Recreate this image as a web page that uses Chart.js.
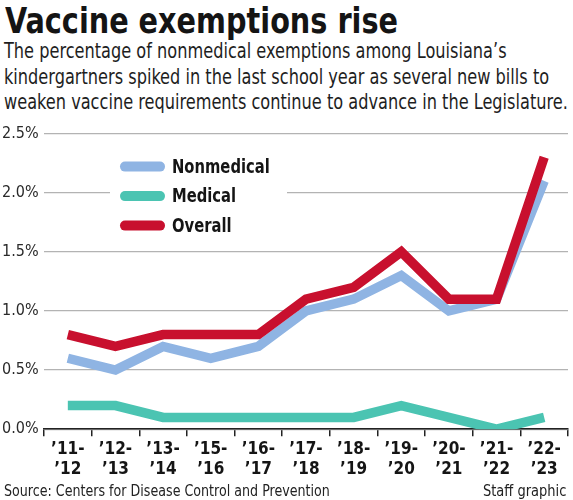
<!DOCTYPE html>
<html>
<head>
<meta charset="utf-8">
<script src="https://cdn.jsdelivr.net/npm/chart.js@4"></script>
<style>
  html, body { margin: 0; padding: 0; background: #fff; width: 573px; height: 500px; overflow: hidden; }
  body { position: relative; font-family: 'DejaVu Sans Condensed', 'DejaVu Sans', sans-serif; color: #1a1a1a; }
  .txt { position: absolute; white-space: nowrap; transform-origin: left top; }
  #title { left: 5px; top: 1px; font-size: 35px; line-height: 40px; font-weight: bold; color: #141414; }
  #sub { left: 4px; top: 39px; font-size: 21px; line-height: 25.5px; color: #1e1e1e; }
  #wrap { position: absolute; left: 0; top: 118px; width: 573px; height: 365px; }
  #source { left: 4px; top: 482px; font-size: 15px; line-height: 18px; color: #222; }
  #staff { left: 483px; top: 482px; font-size: 15px; line-height: 18px; color: #222; }
</style>
</head>
<body>
<div id="title" class="txt">Vaccine exemptions rise</div>
<div id="sub" class="txt">The percentage of nonmedical exemptions among Louisiana’s<br>kindergartners spiked in the last school year as several new bills to<br>weaken vaccine requirements continue to advance in the Legislature.</div>
<div id="wrap"><canvas id="chart"></canvas></div>
<div id="source" class="txt">Source: Centers for Disease Control and Prevention</div>
<div id="staff" class="txt">Staff graphic</div>

<script>
// school years, two-line tick labels
const schoolYears = [
  ["’11-", "’12"], ["’12-", "’13"], ["’13-", "’14"], ["’15-", "’16"],
  ["’16-", "’17"], ["’17-", "’18"], ["’18-", "’19"], ["’19-", "’20"],
  ["’20-", "’21"], ["’21-", "’22"], ["’22-", "’23"]
];

// percent of kindergartners
const nonmedical = [0.6, 0.5, 0.7, 0.6, 0.7, 1.0, 1.1, 1.3, 1.0, 1.1, 2.1];
const medical    = [0.2, 0.2, 0.1, 0.1, 0.1, 0.1, 0.1, 0.2, 0.1, 0.0, 0.1];
const overall    = [0.8, 0.7, 0.8, 0.8, 0.8, 1.1, 1.2, 1.5, 1.1, 1.1, 2.3];

const yTicks = [0, 0.5, 1.0, 1.5, 2.0, 2.5];

const FONT = "'DejaVu Sans Condensed', 'DejaVu Sans', sans-serif";

// squeeze headline texts to the narrow newspaper face widths
function fitWidth(id, w) {
  const el = document.getElementById(id);
  el.style.transform = 'scaleX(' + (w / el.scrollWidth) + ')';
}
fitWidth('title', 393);
fitWidth('sub', 564);
fitWidth('source', 326);
fitWidth('staff', 83);

// legend sits inside the plot, on a white patch over the gridline
const insideLegend = {
  id: 'insideLegend',
  afterDatasetsDraw(chart) {
    const { ctx, chartArea } = chart;
    const x0 = chartArea.left;
    const y0 = chartArea.top;
    ctx.save();
    ctx.fillStyle = '#fff';
    ctx.fillRect(x0 + 66, y0 + 12, 177, 95);
    chart.data.datasets.forEach((ds, i) => {
      const y = y0 + 33 + i * 29.5;
      ctx.strokeStyle = ds.borderColor;
      ctx.lineWidth = 10;
      ctx.lineCap = 'round';
      ctx.beginPath();
      ctx.moveTo(x0 + 81, y);
      ctx.lineTo(x0 + 116, y);
      ctx.stroke();
      ctx.fillStyle = '#151515';
      ctx.font = 'bold 20px ' + FONT;
      ctx.textBaseline = 'middle';
      ctx.save();
      ctx.translate(x0 + 128, y + 1);
      ctx.scale(0.82, 1);
      ctx.fillText(ds.label, 0, 0);
      ctx.restore();
    });
    ctx.restore();
  }
};

const mk = (label, data, color, order) => ({
  label, data, order,
  borderColor: color,
  borderWidth: 9.5,
  pointRadius: 0,
  tension: 0,
  borderJoinStyle: 'miter',
  borderCapStyle: 'butt',
  fill: false
});

new Chart(document.getElementById('chart'), {
  type: 'line',
  data: {
    labels: schoolYears,
    datasets: [
      mk('Nonmedical', nonmedical, '#8fb4e3', 1),
      mk('Medical', medical, '#4bc4b2', 2),
      mk('Overall', overall, '#c8102e', 0)
    ]
  },
  options: {
    responsive: true,
    maintainAspectRatio: false,
    animation: false,
    layout: { padding: { top: 15, right: 5, left: 2, bottom: 0 } },
    plugins: { legend: { display: false }, tooltip: { enabled: false } },
    scales: {
      x: {
        offset: true,
        grid: { offset: true, drawOnChartArea: false, drawTicks: true, tickLength: 7, color: '#222', lineWidth: 1.5 },
        border: { display: true, color: '#222', width: 1.5 },
        ticks: { color: '#151515', font: { family: FONT, size: 17, weight: 'bold' }, padding: 3, maxRotation: 0, autoSkip: false }
      },
      y: {
        min: 0, max: 2.5,
        afterBuildTicks: (axis) => { axis.ticks = yTicks.map(v => ({ value: v })); },
        afterFit: (axis) => { axis.width = 42; },
        grid: { color: '#b3b3b3', lineWidth: 1.2, drawTicks: false },
        border: { display: false },
        ticks: {
          color: '#2a2a2a', font: { family: FONT, size: 16 }, padding: 6, crossAlign: 'far',
          callback: v => v.toFixed(1) + '%'
        }
      }
    }
  },
  plugins: [insideLegend]
});
</script>
</body>
</html>
